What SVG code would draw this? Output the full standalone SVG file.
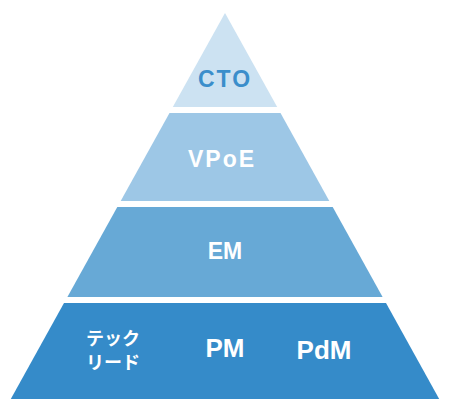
<svg xmlns="http://www.w3.org/2000/svg" width="450" height="406" viewBox="0 0 450 406">
<style>
.lbl{font-family:"Liberation Sans","Noto Sans CJK JP",sans-serif;font-weight:bold;fill:#ffffff;text-anchor:middle}
.jp{font-family:"Noto Sans CJK JP",sans-serif;font-weight:bold;fill:#ffffff;font-size:18px}
</style>
<rect width="450" height="406" fill="#ffffff"/>
<g id="cto">
<polygon points="225,13 277.2,107 172.8,107" fill="#cce2f2"/>
<text class="lbl" x="225" y="86.5" font-size="23" letter-spacing="2" style="fill:#3a8ecb">CTO</text>
</g>
<g id="vpoe">
<polygon points="169.5,113 280.5,113 329.3,201 120.7,201" fill="#9dc7e6"/>
<text class="lbl" x="222" y="166.5" font-size="23" letter-spacing="2">VPoE</text>
</g>
<g id="em">
<polygon points="117.3,207 332.7,207 382.6,297 67.4,297" fill="#67a9d6"/>
<text class="lbl" x="225" y="259" font-size="23">EM</text>
</g>
<g id="base">
<polygon points="64,303 386,303 439.2,399 10.8,399" fill="#358bc9"/>
<text class="jp" x="86" y="345">テック</text>
<text class="jp" x="86" y="369">リード</text>
<text class="lbl" x="225" y="356.5" font-size="26">PM</text>
<text class="lbl" x="324" y="359" font-size="26">PdM</text>
</g>
<g id="connectors"/>
</svg>
